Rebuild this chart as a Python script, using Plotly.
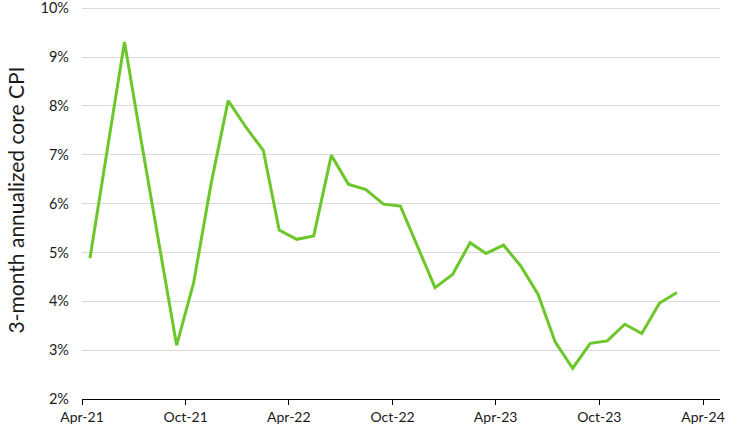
import pandas as pd
import plotly.graph_objects as go

# monthly observations, Apr-21 .. Feb-24 (plotted mid-month)
months = pd.date_range("2021-04-01", "2024-02-01", freq="MS") + pd.Timedelta(days=14)
core_cpi_3m = [
    4.88, 7.05, 9.31, 7.25, 5.20, 3.10, 4.38, 6.42, 8.11,   # Apr-21 .. Dec-21
    7.57, 7.09, 5.46, 5.27, 5.34, 6.99, 6.40, 6.29, 5.99, 5.95, 5.10, 4.28,  # 2022
    4.55, 5.20, 4.98, 5.15, 4.73, 4.14, 3.17, 2.63, 3.14, 3.19, 3.53, 3.34,  # 2023
    3.96, 4.18,   # Jan-24, Feb-24
]
y_ticks = [2, 3, 4, 5, 6, 7, 8, 9, 10]
y_labels = [f"{v}%" for v in y_ticks]

fig = go.Figure()
fig.add_trace(go.Scatter(
    x=months,
    y=core_cpi_3m,
    mode="lines",
    line=dict(color="#6CC72B", width=3),
    showlegend=False,
))

fig.update_layout(
    width=740,
    height=429,
    margin=dict(l=82, r=20, t=1, b=30),
    plot_bgcolor="white",
    paper_bgcolor="white",
    font=dict(family="Lato, Open Sans, sans-serif", size=14, color="#1a1a1a"),
)
fig.update_xaxes(
    type="date",
    range=["2021-04-01", "2024-05-01"],
    tick0="2021-04-01",
    dtick="M6",
    tickformat="%b-%y",
    showgrid=False,
    showline=True,
    linecolor="black",
    linewidth=1.3,
    ticks="outside",
    ticklen=5,
    tickcolor="black",
    tickfont=dict(size=14),
    ticklabeloverflow="allow",
    automargin=False,
)
# a little headroom above 10% so the top gridline and label are kept
fig.update_yaxes(
    range=[2, 10.15],
    tickvals=y_ticks,
    ticktext=y_labels,
    showgrid=True,
    gridcolor="#d9d9d9",
    gridwidth=1,
    zeroline=False,
    showline=False,
    ticks="",
    ticklabelstandoff=12,
    ticklabeloverflow="allow",
    tickfont=dict(size=14.5),
    title=dict(text="3-month annualized core CPI", font=dict(size=21), standoff=10),
    automargin=False,
)

# page body has a default 8px margin; drop it so the figure sits at the corner
fig.write_html("out.html", config={"displayModeBar": False},
               post_script="document.body.style.margin='0';")
